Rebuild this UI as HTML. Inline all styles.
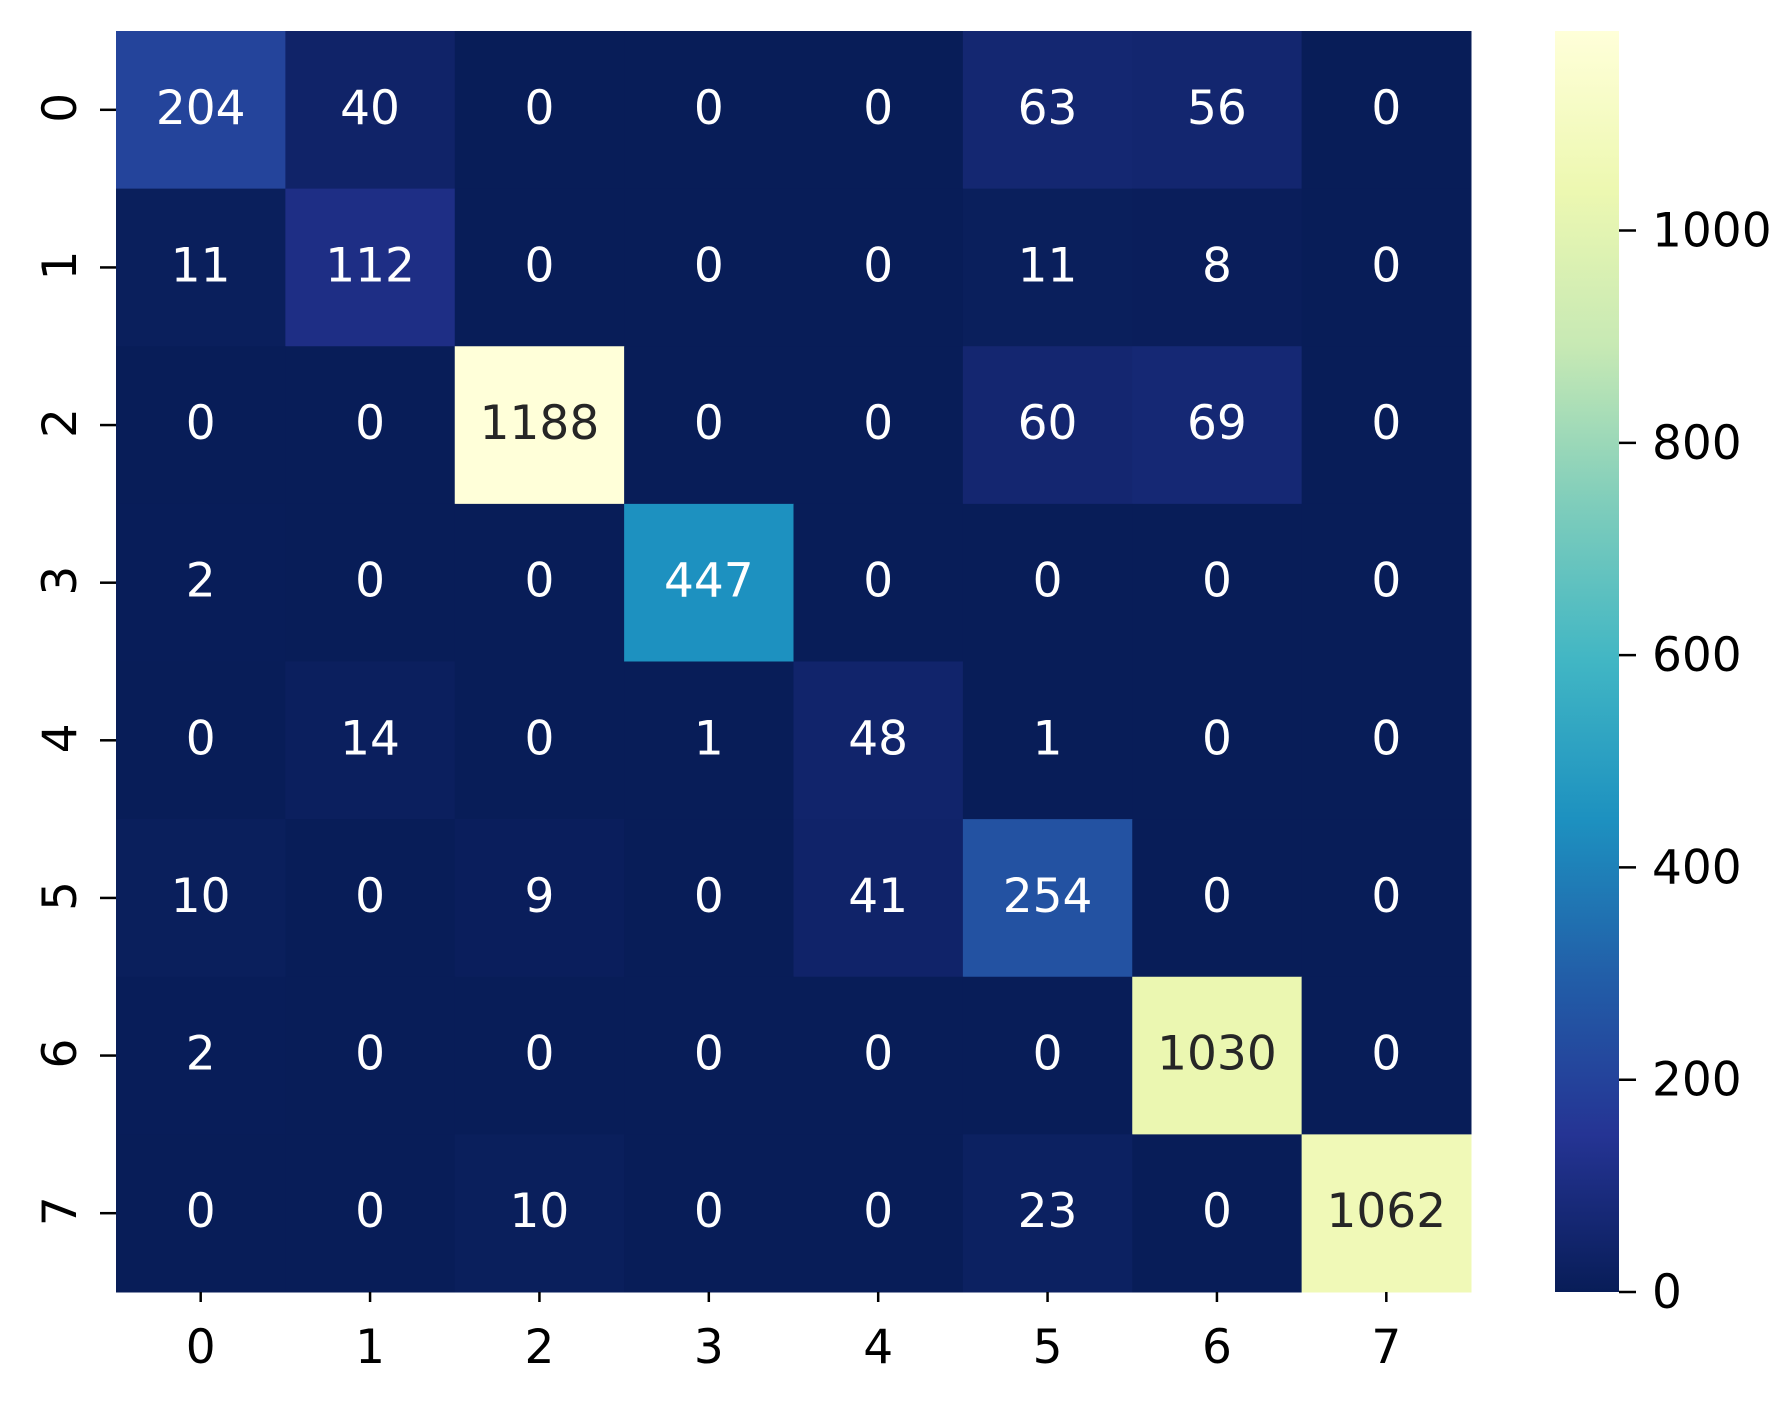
<!DOCTYPE html>
<html><head><meta charset="utf-8"><style>
body{margin:0;background:#fff;}
svg text{font-family:"DejaVu Sans","Liberation Sans",sans-serif;}
</style></head><body>
<svg id="chart" width="1792" height="1413" viewBox="0 0 1792 1413" xmlns="http://www.w3.org/2000/svg">
<defs>
<linearGradient id="cbgrad" x1="0" y1="1" x2="0" y2="0">
<stop offset="0" stop-color="#081d58"/><stop offset="0.125" stop-color="#253494"/><stop offset="0.25" stop-color="#225ea8"/><stop offset="0.375" stop-color="#1d91c0"/><stop offset="0.5" stop-color="#41b6c4"/><stop offset="0.625" stop-color="#7fcdbb"/><stop offset="0.75" stop-color="#c7e9b4"/><stop offset="0.875" stop-color="#edf8b1"/><stop offset="1" stop-color="#ffffd9"/>
</linearGradient>
</defs>
<g id="cells"></g>
<g id="axes"></g>
<rect x="1555" y="31" width="64" height="1261" fill="url(#cbgrad)"/>
<g id="cbticks"></g>
</svg>
<script>
const rowLabels = ["0","1","2","3","4","5","6","7"];
const colLabels = ["0","1","2","3","4","5","6","7"];
const matrix = [
[204,40,0,0,0,63,56,0],
[11,112,0,0,0,11,8,0],
[0,0,1188,0,0,60,69,0],
[2,0,0,447,0,0,0,0],
[0,14,0,1,48,1,0,0],
[10,0,9,0,41,254,0,0],
[2,0,0,0,0,0,1030,0],
[0,0,10,0,0,23,0,1062]
];
const cbTicks = [0,200,400,600,800,1000];
const vmin = 0, vmax = 1188;

const L=116, T=31, R=1471, B=1292;
const cw=(R-L)/colLabels.length, ch=(B-T)/rowLabels.length;
const xPos = i => L + i*cw;
const yPos = j => T + j*ch;
const cbTop=31, cbBot=1292;
const cbY = v => cbBot - (v-vmin)/(vmax-vmin)*(cbBot-cbTop);

const stops=["#081d58","#253494","#225ea8","#1d91c0","#41b6c4","#7fcdbb","#c7e9b4","#edf8b1","#ffffd9"].map(h=>[parseInt(h.slice(1,3),16),parseInt(h.slice(3,5),16),parseInt(h.slice(5,7),16)]);
function cmap(v){
  let t=Math.max(0,Math.min(1,(v-vmin)/(vmax-vmin)))*(stops.length-1);
  let i=Math.min(Math.floor(t),stops.length-2), f=t-i;
  return stops[i].map((a,k)=>Math.round(a+(stops[i+1][k]-a)*f));
}
const NS="http://www.w3.org/2000/svg";
const cells=document.getElementById('cells');
const axes=document.getElementById('axes');
const cbg=document.getElementById('cbticks');
function mk(tag,attrs,parent){const e=document.createElementNS(NS,tag);for(const k in attrs)e.setAttribute(k,attrs[k]);parent.appendChild(e);return e;}

matrix.forEach((row,j)=>{
  row.forEach((v,i)=>{
    const c=cmap(v);
    const r=mk('rect',{x:xPos(i),y:yPos(j),width:cw+0.5,height:ch+0.5,fill:`rgb(${c[0]},${c[1]},${c[2]})`},cells);
    
    
    const lum=(0.299*c[0]+0.587*c[1]+0.114*c[2]);
    const t=mk('text',{x:xPos(i)+cw/2,y:yPos(j)+ch/2+14,'text-anchor':'middle','font-size':47,fill:lum>150?'#262626':'#ffffff'},cells);
    t.textContent=v;
    
    
  });
});
colLabels.forEach((lab,i)=>{
  const x=xPos(i)+cw/2;
  mk('line',{x1:x,y1:B,x2:x,y2:B+10,stroke:'#000','stroke-width':2.5},axes);
  const t=mk('text',{x:x,y:1363,'text-anchor':'middle','font-size':47,fill:'#000'},axes);
  t.textContent=lab;
  
  
});
rowLabels.forEach((lab,j)=>{
  const y=yPos(j)+ch/2;
  mk('line',{x1:L-16,y1:y,x2:L,y2:y,stroke:'#000','stroke-width':2.5},axes);
  const t=mk('text',{x:0,y:0,'text-anchor':'middle','font-size':47,fill:'#000',transform:`translate(76,${y-2}) rotate(-90)`},axes);
  t.textContent=lab;
  
  
});
cbTicks.forEach(v=>{
  const y=cbY(v);
  mk('line',{x1:1619,y1:y,x2:1636,y2:y,stroke:'#000','stroke-width':2.5},cbg);
  const t=mk('text',{x:1652,y:y+16,'font-size':47,fill:'#000'},cbg);
  t.textContent=v;
  
  
});
</script>
</body></html>
